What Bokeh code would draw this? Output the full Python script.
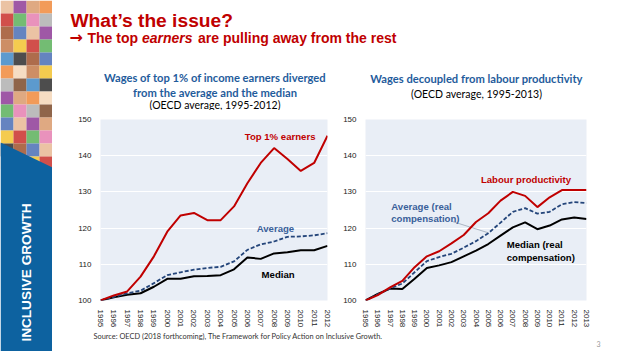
import math
from bokeh.plotting import figure
from bokeh.models import Range1d, FixedTicker
from bokeh.layouts import row, column
from bokeh.core.properties import value
from bokeh.embed import file_html
from bokeh.resources import INLINE

# ---------------- data ----------------
years1 = list(range(1995, 2013))
top1 = [100, 101.4, 102.5, 106.6, 112.2, 119.0, 123.5, 124.2, 122.2, 122.2,
        126.0, 132.4, 138.0, 142.1, 139.1, 135.8, 138.0, 145.5]
avg1 = [100, 101.0, 102.0, 102.7, 104.8, 107.0, 107.8, 108.5, 109.0, 109.3,
        110.8, 114.0, 115.5, 116.3, 117.6, 117.7, 118.0, 118.6]
med1 = [100, 100.9, 101.6, 102.0, 103.8, 106.0, 106.0, 106.7, 106.8, 107.0,
        108.6, 111.9, 111.5, 113.0, 113.3, 113.9, 113.9, 115.1]

years2 = list(range(1995, 2014))
prod2 = [100, 101.5, 103.6, 105.4, 109.2, 112.2, 113.6, 115.8, 118.1, 121.7,
         124.1, 127.6, 130.0, 128.9, 125.8, 128.5, 130.5, 130.5, 130.5]
avg2 = [100, 101.7, 103.3, 104.7, 107.8, 110.9, 112.0, 112.9, 114.6, 116.4,
        118.6, 121.5, 124.5, 125.5, 124.0, 124.5, 126.6, 127.2, 126.9]
med2 = [100, 101.8, 103.3, 103.2, 106.0, 109.0, 109.7, 110.6, 112.2, 113.8,
        115.6, 117.9, 120.2, 121.6, 119.7, 120.7, 122.4, 122.9, 122.5]

y_ticks = [100, 110, 120, 130, 140, 150]

RED = "#c00000"
NAVY = "#24457a"
BLUE_T = "#1f5c9c"
SANS = "Liberation Sans, sans-serif"
BG = "#e9eef6"


def base_chart(width, height, years, mb_left, mb_right, mb_top, mb_bottom):
    p = figure(width=width, height=height,
               x_range=Range1d(years[0], years[-1]), y_range=Range1d(100, 150),
               output_backend="svg", toolbar_location=None,
               min_border_left=mb_left, min_border_right=mb_right,
               min_border_top=mb_top, min_border_bottom=mb_bottom)
    p.background_fill_color = BG
    p.border_fill_color = "white"
    p.outline_line_color = None
    p.xgrid.grid_line_color = None
    p.ygrid.grid_line_color = "white"
    p.ygrid.grid_line_width = 1
    p.xaxis.ticker = FixedTicker(ticks=years)
    p.yaxis.ticker = FixedTicker(ticks=y_ticks)
    p.xaxis.major_label_orientation = "vertical"
    for ax in (p.xaxis[0], p.yaxis[0]):
        ax.axis_line_color = None
        ax.major_tick_line_color = None
        ax.minor_tick_line_color = None
        ax.major_label_text_font = SANS
        ax.major_label_text_font_size = "8px"
        ax.major_label_text_color = "#222222"
        ax.major_label_standoff = 3
    return p


def label(p, xs, ys, texts, color, align):
    p.text(x=xs, y=ys, text=texts, text_align=align, text_baseline="middle",
           text_color=color, text_font=value(SANS), text_font_style="bold",
           text_font_size="9.6px")


# ---------------- chart 1 ----------------
p1 = base_chart(288, 220, years1, 48, 13, 8, 27)
p1.line(years1, med1, line_color="black", line_width=2)
p1.line(years1, avg1, line_color=NAVY, line_width=1.8, line_dash="4 2")
p1.line(years1, top1, line_color=RED, line_width=2)
label(p1, [2011.1], [145.3], ["Top 1% earners"], RED, "right")
label(p1, [2008.1], [119.9], ["Average"], "#3a5f9a", "center")
label(p1, [2008.3], [107.3], ["Median"], "black", "center")

# ---------------- chart 2 ----------------
p2 = base_chart(290, 220, years2, 23, 44, 9, 27)
p2.line([2002.1, 2005.0], [121.8, 118.7], line_color="#9aa6b5", line_width=0.8)
p2.line(years2, med2, line_color="black", line_width=2)
p2.line(years2, avg2, line_color=NAVY, line_width=1.8, line_dash="4 2")
p2.line(years2, prod2, line_color=RED, line_width=2)
label(p2, [2004.4], [133.3], ["Labour productivity"], RED, "left")
label(p2, [1997.1, 1997.1], [126.1, 122.6], ["Average (real", "compensation)"], "#3a5f9a", "left")
label(p2, [2006.5, 2006.5], [115.4, 112.0], ["Median (real", "compensation)"], "black", "left")


# ---------------- helpers for decorative panels ----------------
def blank(width, height, xr, yr):
    f = figure(width=width, height=height, x_range=Range1d(*xr), y_range=Range1d(*yr),
               output_backend="svg", toolbar_location=None,
               x_axis_type=None, y_axis_type=None,
               min_border=0, min_border_left=0, min_border_right=0,
               min_border_top=0, min_border_bottom=0)
    f.outline_line_color = None
    f.grid.visible = False
    f.background_fill_color = "white"
    f.border_fill_color = "white"
    return f


# ---------------- header ----------------
hdr = blank(578, 110, (52, 630), (110, 0))
hdr.text(x=[70], y=[20], text=["What\u2019s the issue?"], text_baseline="middle",
         text_color=RED, text_font=value(SANS), text_font_style="bold",
         text_font_size="19.2px")
hdr.text(x=[69], y=[37], text=["\u2192"], text_baseline="middle",
         text_color=RED, text_font=value("DejaVu Sans, sans-serif"), text_font_style="bold",
         text_font_size="16px")
hdr.text(x=[87], y=[37.5], text=["The top"], text_baseline="middle",
         text_color=RED, text_font=value(SANS), text_font_style="bold",
         text_font_size="14px")
hdr.text(x=[141.5], y=[37.5], text=["earners"], text_baseline="middle",
         text_color=RED, text_font=value(SANS), text_font_style="bold italic",
         text_font_size="14px")
hdr.text(x=[197.5], y=[37.5], text=["are pulling away from the rest"], text_baseline="middle",
         text_color=RED, text_font=value(SANS), text_font_style="bold",
         text_font_size="14px")
hdr.text(x=[214.5, 214.5], y=[77, 92],
         text=["Wages of top 1% of income earners diverged", "from the average and the median"],
         text_align="center", text_baseline="middle", text_color=BLUE_T,
         text_font=value("Lato"), text_font_style="bold", text_font_size="11.2px")
hdr.text(x=[214.5], y=[104], text=["(OECD average, 1995-2012)"], text_align="center",
         text_baseline="middle", text_color="black", text_font=value("Lato"),
         text_font_size="10.5px")
hdr.text(x=[476], y=[78], text=["Wages decoupled from labour productivity"],
         text_align="center", text_baseline="middle", text_color=BLUE_T,
         text_font=value("Lato"), text_font_style="bold", text_font_size="11.2px")
hdr.text(x=[476], y=[93], text=["(OECD average, 1995-2013)"], text_align="center",
         text_baseline="middle", text_color="black", text_font=value("Lato"),
         text_font_size="10.5px")

# ---------------- footer ----------------
ftr = blank(578, 21, (52, 630), (351, 330))
ftr.text(x=[93], y=[336], text=["Source: OECD (2018 forthcoming), The Framework for Policy Action on Inclusive Growth."],
         text_baseline="middle", text_color="#333333", text_font=value("Lato"),
         text_font_size="7.4px")
ftr.text(x=[598], y=[343], text=["3"], text_baseline="middle", text_align="center",
         text_color="#9a9a9a", text_font=value("Lato"), text_font_size="7px")

# ---------------- sidebar ----------------
side = blank(52, 351, (0, 52), (351, 0))
palette = ["#e8b894", "#7b4a2a", "#f2c230", "#8e3b96", "#3f88c5", "#c9302c",
           "#d99a6c", "#2e2e2e", "#5ab05a", "#f08a3c", "#a0522d", "#e57fb0",
           "#f4d7b8", "#4a6fb5", "#b0b0b0", "#c47a4a"]
qs = {"left": [], "right": [], "top": [], "bottom": [], "color": []}
for r in range(13):
    for c in range(4):
        qs["left"].append(c * 13)
        qs["right"].append((c + 1) * 13)
        qs["top"].append(r * 13)
        qs["bottom"].append((r + 1) * 13)
        qs["color"].append(palette[(r * 5 + c * 3) % len(palette)])
side.quad(left="left", right="right", top="top", bottom="bottom", color="color",
          source=qs, line_color=None, alpha=0.85)
side.patch(x=[0, 52, 52, 0], y=[142, 167, 351, 351], color="#0d62a0", line_color=None)
side.text(x=[26], y=[272], text=["INCLUSIVE GROWTH"], angle=math.pi / 2,
          text_align="center", text_baseline="middle", text_color="white",
          text_font=value(SANS), text_font_style="bold", text_font_size="13.6px")

layout = row(side, column(hdr, row(p1, p2), ftr))

open("out.html", "w").write(file_html(layout, INLINE))
